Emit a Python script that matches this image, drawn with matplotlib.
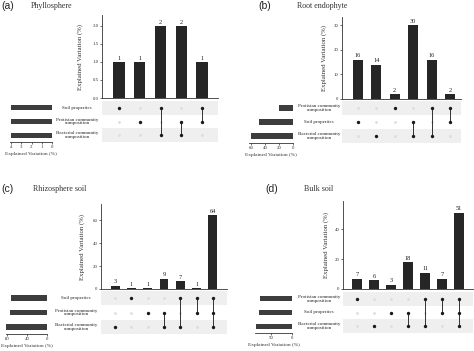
import numpy as np
import matplotlib.pyplot as plt

plt.rcParams['font.family'] = ['Liberation Serif', 'DejaVu Serif']

SOIL = "Soil properties"
PROT = "Protistan community\ncomposition"
BACT = "Bacterial community\ncomposition"

# (a) Phyllosphere
phyllo_sets = [SOIL, PROT, BACT]
phyllo_set_sizes = [4, 4, 4]
phyllo_values = [1, 1, 2, 2, 1]
phyllo_combos = [[0], [1], [0, 2], [1, 2], [0, 1]]

# (b) Root endophyte
root_sets = [PROT, SOIL, BACT]
root_set_sizes = [20, 48, 60]
root_values = [16, 14, 2, 30, 16, 2]
root_combos = [[1], [2], [0], [1, 2], [0, 2], [0, 1]]

# (c) Rhizosphere soil
rhizo_sets = [SOIL, PROT, BACT]
rhizo_set_sizes = [73, 75, 83]
rhizo_values = [3, 1, 1, 9, 7, 1, 64]
rhizo_combos = [[2], [0], [1], [1, 2], [0, 2], [0, 1], [0, 1, 2]]

# (d) Bulk soil
bulk_sets = [PROT, SOIL, BACT]
bulk_set_sizes = [76, 79, 86]
bulk_values = [7, 6, 3, 18, 11, 7, 51]
bulk_combos = [[0], [2], [1], [1, 2], [0, 2], [0, 1], [0, 1, 2]]

W, H = 474, 351
fig = plt.figure(figsize=(W / 100, H / 100), dpi=100)


def px_axes(x0, y0, x1, y1):
    return fig.add_axes([x0 / W, 1 - y1 / H, (x1 - x0) / W, (y1 - y0) / H])


def draw_panel(letter, title, sets, set_sizes, values, combos, yticks, yfmt,
               size_ticks, lay):
    bx0, by0, bx1, by1 = lay['bar']
    my0, my1 = lay['mat']
    sx0, sx1 = lay['size']
    n = len(values)
    xpos = np.arange(n)

    # intersection bars
    ax = px_axes(bx0, by0, bx1, by1)
    ax.bar(xpos, values, width=0.55, color='#262626')
    ax.set_xlim(*lay['xlim'])
    ax.set_ylim(0, lay['ymax'])
    for x, v in zip(xpos, values):
        ax.text(x, v + lay['ymax'] * 0.015, str(v), ha='center', va='bottom',
                fontsize=4.6, color='#222222')
    ax.set_xticks([])
    ax.set_yticks(yticks)
    ax.set_yticklabels([yfmt.format(t) for t in yticks])
    ax.tick_params(axis='y', labelsize=3.5, length=1.5, width=0.5, pad=1,
                   colors='#333333')
    for s in ['top', 'right']:
        ax.spines[s].set_visible(False)
    for s in ['left', 'bottom']:
        ax.spines[s].set_linewidth(0.6)
        ax.spines[s].set_color('#333333')
    ax.patch.set_alpha(0)

    # matrix
    mx = px_axes(bx0, my0, bx1, my1)
    nsets = len(sets)
    mx.set_xlim(*lay['xlim'])
    mx.set_ylim(nsets - 0.5, -0.5)
    for i in range(nsets):
        if i % 2 == 0:
            mx.axhspan(i - 0.5, i + 0.5, color='#efefef', lw=0)
    for x, combo in zip(xpos, combos):
        for i in range(nsets):
            if i not in combo:
                mx.scatter(x, i, s=4, color='#dddddd', zorder=2, lw=0)
        if len(combo) > 1:
            mx.plot([x, x], [min(combo), max(combo)], color='#333333',
                    lw=0.7, zorder=3)
        mx.scatter([x] * len(combo), combo, s=6, color='#1a1a1a', zorder=4,
                   lw=0)
    mx.axis('off')

    # set sizes
    sa = px_axes(sx0, my0, sx1, my1)
    sa.barh(np.arange(nsets), set_sizes, height=0.38, color='#3d3d3d')
    sa.set_ylim(nsets - 0.5, -0.5)
    sa.set_xlim(lay['smax'], 0)
    sa.set_yticks([])
    sa.set_xticks(size_ticks)
    sa.tick_params(axis='x', labelsize=3.5, length=1.5, width=0.5, pad=1,
                   colors='#333333')
    for s in ['top', 'right', 'left']:
        sa.spines[s].set_visible(False)
    sa.spines['bottom'].set_linewidth(0.6)
    sa.spines['bottom'].set_color('#333333')
    sa.set_xlabel("Explained Variation (%)", fontsize=3.9, labelpad=1.5,
                  color='#333333')
    sa.patch.set_alpha(0)

    # set labels
    step = (my1 - my0) / nsets
    for i, name in enumerate(sets):
        fig.text(lay['lab_x'] / W, 1 - (my0 + (i + 0.5) * step) / H, name,
                 ha='center', va='center', fontsize=3.6, linespacing=0.95,
                 color='#222222')

    # y label
    fig.text(lay['ylab_x'] / W, 1 - (by0 + by1) / 2 / H,
             "Explained Variation (%)", rotation=90, ha='center',
             va='center', fontsize=4.9, color='#333333')

    # panel letter and title
    lx, ly = lay['letter']
    fig.text(lx / W, 1 - ly / H, letter, ha='left', va='center', fontsize=7.5,
             family=['Liberation Sans', 'DejaVu Sans'], color='#222222')
    fig.text(lay['title_x'] / W, 1 - ly / H, title, ha='left', va='center',
             fontsize=5.8, color='#333333')


draw_panel("(a)", "Phyllosphere", phyllo_sets, phyllo_set_sizes,
           phyllo_values, phyllo_combos, [0, 0.5, 1.0, 1.5, 2.0], "{:.1f}",
           [4, 3, 2, 1, 0],
           dict(bar=(102, 15, 218, 98), mat=(101, 142), size=(10, 52),
                xlim=(-0.82, 4.77), ymax=2.3, smax=4.1, lab_x=77,
                ylab_x=80, letter=(1, 6), title_x=31))

draw_panel("(b)", "Root endophyte", root_sets, root_set_sizes,
           root_values, root_combos, [0, 10, 20, 30], "{:d}",
           [60, 40, 20, 0],
           dict(bar=(342, 17, 461, 99), mat=(101, 143), size=(249, 293),
                xlim=(-0.87, 5.6), ymax=33.4, smax=63, lab_x=319,
                ylab_x=324, letter=(258, 6), title_x=297))

draw_panel("(c)", "Rhizosphere soil", rhizo_sets, rhizo_set_sizes,
           rhizo_values, rhizo_combos, [0, 20, 40, 60], "{:d}",
           [80, 40, 0],
           dict(bar=(101, 204, 227, 289), mat=(291, 334), size=(6, 47),
                xlim=(-0.86, 6.86), ymax=74, smax=82, lab_x=76,
                ylab_x=82, letter=(1, 189), title_x=33))

draw_panel("(d)", "Bulk soil", bulk_sets, bulk_set_sizes,
           bulk_values, bulk_combos, [0, 20, 40], "{:d}",
           [50, 0],
           dict(bar=(343, 201, 473, 289), mat=(292, 333), size=(255, 292),
                xlim=(-0.82, 6.82), ymax=58.7, smax=88, lab_x=319,
                ylab_x=326, letter=(265, 189), title_x=304))

fig.savefig("out.png", dpi=100)
